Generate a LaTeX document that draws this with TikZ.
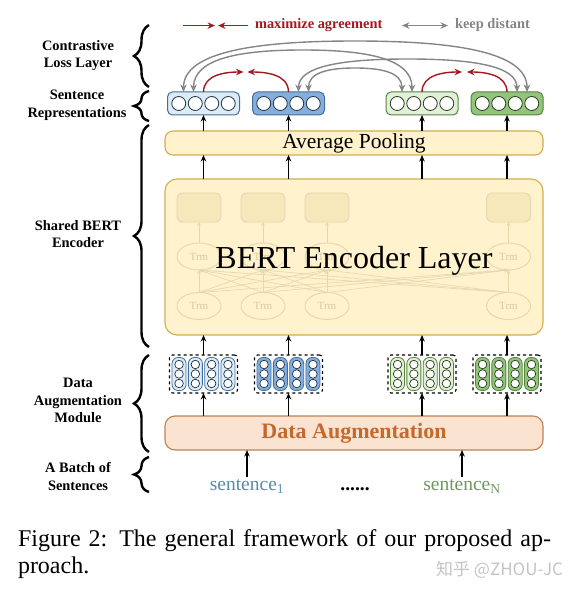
\documentclass[tikz,border=0pt]{standalone}
\usepackage{fontspec}
\setmainfont{Liberation Serif}
\newfontfamily\markfont{Noto Sans CJK SC}
\usetikzlibrary{arrows.meta,positioning,shapes.geometric,decorations.pathreplacing}
\definecolor{blueLight}{HTML}{DDEBF7}
\definecolor{blueMid}{HTML}{86AEDC}
\definecolor{blueDark}{HTML}{41709E}
\definecolor{greenLight}{HTML}{E2F0D9}
\definecolor{greenMid}{HTML}{93C47D}
\definecolor{greenDark}{HTML}{56843A}
\definecolor{poolFill}{HTML}{FFF2CC}
\definecolor{poolDraw}{HTML}{D2AE4E}
\definecolor{fadeFill}{HTML}{F7E8BC}
\definecolor{fadeDraw}{HTML}{E4D7AC}
\definecolor{fadeText}{HTML}{D6CAA0}
\definecolor{augFill}{HTML}{FBE3D2}
\definecolor{augDraw}{HTML}{C0804F}
\definecolor{augText}{HTML}{C4682E}
\definecolor{agreeRed}{HTML}{A3191F}
\definecolor{distGray}{HTML}{858585}
\definecolor{sentBlue}{HTML}{5789A8}
\definecolor{sentGreen}{HTML}{6E9660}
\definecolor{markGray}{HTML}{C4C4C4}
\tikzset{
  >={Stealth[length=7.5pt,width=6.5pt]},
  every node/.style={outer sep=0pt,inner sep=0pt}
}
\tikzset{layer/.style={
    draw=poolDraw,
    fill=poolFill,
    line width=1.1pt,
    rounded corners=#1,
    minimum width=378pt
  },
  layer/.default=8pt}
\tikzset{repbox/.style 2 args={
    draw=#2,
    fill=#1,
    line width=1pt,
    rounded corners=5pt,
    minimum width=72pt,
    minimum height=23pt
  }}
\tikzset{unit/.style={
    circle,
    draw=#1!45!black,
    fill=white,
    line width=0.8pt,
    minimum size=14pt
  }}
\tikzset{augbox/.style={
    draw,
    dashed,
    line width=1.1pt,
    rounded corners=3pt,
    minimum width=68pt,
    minimum height=38pt
  }}
\tikzset{pill/.style 2 args={
    draw=#2,
    fill=#1,
    line width=0.8pt,
    rounded corners=6pt,
    minimum width=14pt,
    minimum height=33pt
  }}
\tikzset{dot/.style={
    circle,
    draw=#1!45!black,
    fill=white,
    line width=0.7pt,
    minimum size=8.5pt
  }}
\tikzset{fadebox/.style={
    draw=fadeDraw,
    fill=fadeFill,
    line width=0.9pt,
    rounded corners=6pt,
    minimum width=44pt,
    minimum height=29pt
  }}
\tikzset{trm/.style={
    ellipse,
    draw=fadeDraw,
    line width=0.9pt,
    minimum width=44pt,
    minimum height=27pt,
    text=fadeText,
    font=\fontsize{11}{11}\selectfont
  }}
\tikzset{feed/.style={
    ->,
    >={Stealth[length=6.5pt,width=5.5pt]},
    line width=1.1pt
  }}
\tikzset{faint/.style={
    ->,
    >={Stealth[length=4pt,width=3.5pt]},
    draw=fadeDraw,
    line width=0.6pt
  }}
\tikzset{pull/.style={->,draw=agreeRed,line width=1.4pt}}
\tikzset{push/.style={<->,draw=distGray,line width=1.4pt}}
\tikzset{sidelabel/.style={
    align=center,
    font=\fontsize{14.4}{17.5}\selectfont\bfseries
  }}
\tikzset{bracket/.style={
    decorate,
    decoration={brace,amplitude=15pt},
    line width=2.4pt
  }}

\begin{document}
\begin{tikzpicture}[x=1pt,y=-1pt]
  \useasboundingbox (0,0) rectangle (577,593);

  \node (Legend_agree) [anchor=base west,text=agreeRed,font=\fontsize{14.4}{17}\selectfont\bfseries] at (255,29) {maximize agreement};
  \node (Legend_dist) [anchor=base west,text=distGray,font=\fontsize{14.4}{17}\selectfont\bfseries] at (455,29) {keep distant};
  \draw [pull] ([xshift=-72pt] Legend_agree.west) -- ([xshift=-40pt] Legend_agree.west);
  \draw [pull] ([xshift=-7pt] Legend_agree.west) -- ([xshift=-37pt] Legend_agree.west);
  \draw [push] ([xshift=-53pt] Legend_dist.west) -- ([xshift=-7pt] Legend_dist.west);

  \foreach \i/\cx/\fc/\dc in {1/203.5/blueLight/blueDark,2/288.5/blueMid/blueDark,3/422/greenLight/greenDark,4/507/greenMid/greenDark} {
    \node (Rep_\i) [repbox={\fc}{\dc}] at (\cx,103.5) {};
    \foreach \k in {1,...,4}
      \node (Rep_\i_\k) [unit=\dc] at ([xshift={(\k-2.5)*16.5pt}] Rep_\i.center) {};
    \node (Aug_\i) [augbox] at (\cx,374) {};
    \foreach \k in {1,...,4} {
      \node (Aug_\i_\k) [pill={\fc}{\dc}] at ([xshift={(\k-2.5)*16.3pt}] Aug_\i.center) {};
      \foreach \r in {1,2,3}
        \node (Aug_\i_\k_\r) [dot=\dc] at ([yshift={(2-\r)*9.5pt}] Aug_\i_\k.center) {};
    }
  }

  \node (Avg_pool) [layer,minimum height=24pt,font=\fontsize{21.5}{21.5}\selectfont] at (354,143) {Average Pooling};
  \node (Bert_enc) [layer=12pt,minimum height=156pt] at (354,257) {};
  \node (Data_aug) [layer=10pt,draw=augDraw,fill=augFill,minimum height=34pt,text=augText,font=\fontsize{22}{22}\selectfont\bfseries] at (354,433) {Data Augmentation};

  \foreach \j/\ex in {1/199,2/263,3/327,4/508.5} {
    \node (Enc_out_\j) [fadebox] at (\ex,207.5) {};
    \node (Trm_hi_\j) [trm] at (\ex,256.5) {Trm};
    \node (Trm_lo_\j) [trm] at (\ex,306) {Trm};
    \draw [faint] (Trm_hi_\j) -- (Enc_out_\j);
  }
  \foreach \a in {1,...,4}
    \foreach \b in {1,...,4}
      \draw [faint] (Trm_lo_\a.north) -- (Trm_hi_\b.south);
  \node (Bert_txt) [anchor=base,font=\fontsize{32}{32}\selectfont] at (354,268) {BERT Encoder Layer};

  \foreach \i in {1,...,4} {
    \draw [feed] (Aug_\i.south|-Data_aug.north) -- (Aug_\i.south);
    \draw [feed] (Aug_\i.north) -- (Aug_\i.north|-Bert_enc.south);
    \draw [feed] (Rep_\i.south|-Bert_enc.north) -- (Rep_\i.south|-Avg_pool.south);
    \draw [feed] (Rep_\i.south|-Avg_pool.north) -- (Rep_\i.south);
  }

  \node (Sent_1) [anchor=base,text=sentBlue,font=\fontsize{19.5}{20}\selectfont] at (247,490) {sentence\textsubscript{1}};
  \node (Sent_dots) [anchor=base,font=\fontsize{19.5}{20}\selectfont\bfseries] at (355,490) {......};
  \node (Sent_N) [anchor=base,text=sentGreen,font=\fontsize{19.5}{20}\selectfont] at (462,490) {sentence\textsubscript{N}};
  \draw [feed] ([yshift=2pt] Sent_1.north) -- (Sent_1.north|-Data_aug.south);
  \draw [feed] ([yshift=2pt] Sent_N.north) -- (Sent_N.north|-Data_aug.south);

  \coordinate (Meet_a) at (245.5,72);
  \coordinate (Meet_b) at (464.5,72);
  \draw [pull] (Rep_1.north) to[out=90,in=180] ([xshift=-2pt] Meet_a);
  \draw [pull] (Rep_2.north) to[out=90,in=0] ([xshift=2pt] Meet_a);
  \draw [pull] (Rep_3.north) to[out=90,in=180] ([xshift=-2.5pt] Meet_b);
  \draw [pull] (Rep_4.north) to[out=90,in=0] ([xshift=2.5pt] Meet_b);

  \coordinate (Arc_a) at (355,41);
  \coordinate (Arc_b) at (303,50);
  \coordinate (Arc_c) at (408,59);
  \coordinate (Arc_d) at (355,68);
  \draw [push] ([xshift=-20pt] Rep_1.north) .. controls +(0,-40) and +(-100,0) .. (Arc_a)
  .. controls +(100,0) and +(0,-40) .. ([xshift=20pt] Rep_4.north);
  \draw [push] ([xshift=-10pt] Rep_1.north) .. controls +(0,-33) and +(-65,0) .. (Arc_b)
  .. controls +(65,0) and +(0,-33) .. ([xshift=-10pt] Rep_3.north);
  \draw [push] ([xshift=10pt] Rep_2.north) .. controls +(0,-26) and +(-65,0) .. (Arc_c)
  .. controls +(65,0) and +(0,-26) .. ([xshift=10pt] Rep_4.north);
  \draw [push] ([xshift=20pt] Rep_2.north) .. controls +(0,-19) and +(-28,0) .. (Arc_d)
  .. controls +(28,0) and +(0,-19) .. ([xshift=-20pt] Rep_3.north);

  \node (Lbl_loss) [sidelabel] at (78,55.5) {Contrastive\\Loss Layer};
  \draw [bracket] (149,87) -- (149,25);
  \node (Lbl_rep) [sidelabel] at (77,105.5) {Sentence\\Representations};
  \draw [bracket] (149,121) -- (149,91);
  \node (Lbl_bert) [sidelabel] at (78,234) {Shared BERT\\Encoder};
  \draw [bracket] (149,347) -- (149,125);
  \node (Lbl_aug) [sidelabel] at (78,400.5) {Data\\Augmentation\\Module};
  \draw [bracket] (149,452) -- (149,355);
  \node (Lbl_batch) [sidelabel] at (78,476.5) {A Batch of\\Sentences};
  \draw [bracket] (149,492) -- (149,457);

  \node (Caption_top) [anchor=base west,font=\fontsize{24}{28}\selectfont] at (18,546) {\makebox[533pt][s]{Figure 2: The general framework of our proposed ap-}};
  \node (Caption_end) [anchor=base west,font=\fontsize{24}{28}\selectfont] at (18,573) {proach.};
  \node (Mark) [anchor=base east,text=markGray,font=\markfont\fontsize{17}{17}\selectfont] at (563,575) {知乎 @ZHOU-JC};
\end{tikzpicture}
\end{document}
